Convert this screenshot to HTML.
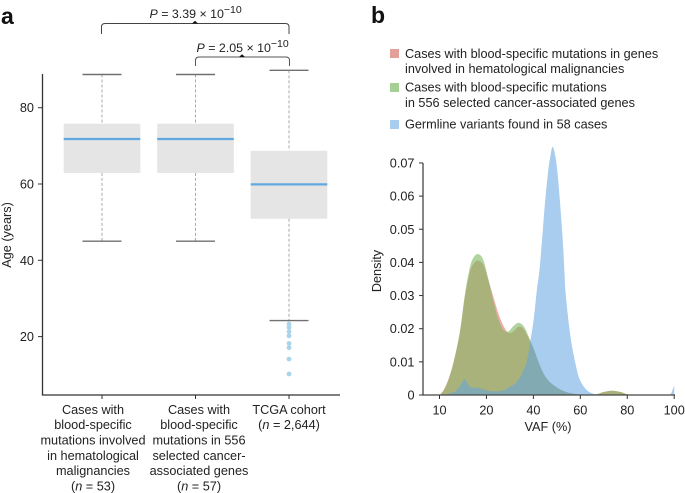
<!DOCTYPE html>
<html>
<head>
<meta charset="utf-8">
<style>
html,body{margin:0;padding:0;background:#fff;}
#wrap{width:685px;height:493px;position:relative;overflow:hidden;}
svg{display:block;font-family:"Liberation Sans",Arial,sans-serif;fill:#222;filter:blur(0.3px);}
text{font-size:12.7px;}
</style>
</head>
<body>
<div id="wrap">
<svg id="fig" width="685" height="493" viewBox="0 0 685 493">
  <text x="1" y="24" style="font-size:23px;font-weight:bold;fill:#111">a</text>
  <text x="371" y="23" style="font-size:23px;font-weight:bold;fill:#111">b</text>

  <g fill="none" stroke="#444" stroke-width="1">
    <path d="M101.5 34V27Q101.5 23.5 105 23.5H285.5Q289 23.5 289 27V34"/>
  </g>
  <path d="M192 23.5L195 20.8L198 23.5Z" fill="#111"/>
  <g fill="none" stroke="#555" stroke-width="1">
    <path d="M195.5 66V60.5Q195.5 57 199 57H286Q289.5 57 289.5 60.5V66"/>
  </g>
  <path d="M239 57L242 54.3L245 57Z" fill="#111"/>
  <text x="149.5" y="18" style="font-size:12.4px"><tspan font-style="italic">P</tspan> = 3.39 × 10<tspan dy="-5" style="font-size:10.5px">−10</tspan></text>
  <text x="196.5" y="52" style="font-size:12.4px"><tspan font-style="italic">P</tspan> = 2.05 × 10<tspan dy="-5" style="font-size:10.5px">−10</tspan></text>

  <g id="boxplot"></g>

  <g text-anchor="middle">
    <g>
      <text x="93" y="414">Cases with</text>
      <text x="93" y="429">blood-specific</text>
      <text x="93" y="444.5">mutations involved</text>
      <text x="93" y="460">in hematological</text>
      <text x="93" y="475">malignancies</text>
      <text x="93" y="490.5">(<tspan font-style="italic">n</tspan> = 53)</text>
    </g>
    <g>
      <text x="199" y="414">Cases with</text>
      <text x="199" y="429">blood-specific</text>
      <text x="199" y="444.5">mutations in 556</text>
      <text x="199" y="460">selected cancer-</text>
      <text x="199" y="475">associated genes</text>
      <text x="199" y="490.5">(<tspan font-style="italic">n</tspan> = 57)</text>
    </g>
    <g>
      <text x="289" y="414">TCGA cohort</text>
      <text x="289" y="429">(<tspan font-style="italic">n</tspan> = 2,644)</text>
    </g>
  </g>
  <text transform="translate(11,235) rotate(-90)" text-anchor="middle">Age (years)</text>

  <g>
    <rect x="390" y="49" width="9" height="9" fill="#e3a09a"/>
    <text x="405" y="58">Cases with blood-specific mutations in genes</text>
    <text x="405" y="73">involved in hematological malignancies</text>
    <rect x="390" y="83" width="9" height="9" fill="#a6cf95"/>
    <text x="405" y="91.5">Cases with blood-specific mutations</text>
    <text x="405" y="107">in 556 selected cancer-associated genes</text>
    <rect x="390" y="120" width="9" height="9" fill="#a8cdee"/>
    <text x="405" y="128.5">Germline variants found in 58 cases</text>
  </g>

  <g id="density"></g>
  <text transform="translate(381,271) rotate(-90)" text-anchor="middle">Density</text>
  <text x="548" y="431" text-anchor="middle">VAF (%)</text>
</svg>
</div>
<script>
// Panel a data
var boxCategories = ['hematological', 'cancer-associated', 'tcga'];
var boxQ1 = [62.9, 62.9, 50.9];
var boxMedian = [71.8, 71.8, 59.9];
var boxQ3 = [75.8, 75.8, 68.7];
var whiskerLow = [45, 45, 24.2];
var whiskerHigh = [88.7, 88.7, 89.8];
var tcgaOutliers = [23.3, 22.4, 21.3, 20.2, 18.2, 17.1, 14.1, 10.2];
var ageTicks = [20, 40, 60, 80];

// Panel b data
var densityTicks = [0, 0.01, 0.02, 0.03, 0.04, 0.05, 0.06, 0.07];
var densityTickLabels = ['0', '0.01', '0.02', '0.03', '0.04', '0.05', '0.06', '0.07'];
var vafTicks = [0, 20, 40, 60, 80, 100];
var vafTickLabels = ['10', '20', '40', '60', '80', '100'];

var redVaf = [0.2, 2.3, 4.5, 6.6, 8.8, 10.9, 13, 14.7, 16.6, 18.7, 20.9, 23, 25.1, 27.3, 29.4, 31.5, 33.7, 35.8, 37.9, 40.1, 42.2, 44.3, 46.5, 48.6, 50.6, 53.6, 57.9, 62.2, 66.4, 69.9, 73.6, 77.2, 80.1, 85.6, 100];
var redDensity = [0, 0.0022, 0.0062, 0.0118, 0.0194, 0.03, 0.0372, 0.0398, 0.0405, 0.0392, 0.0345, 0.0295, 0.0246, 0.0208, 0.0187, 0.0192, 0.0206, 0.02, 0.0172, 0.0138, 0.0098, 0.0064, 0.0042, 0.0029, 0.002, 0.001, 0.0003, 0, 0.0001, 0.0009, 0.0013, 0.0009, 0.0002, 0, 0];

var greenVaf = [0.2, 2.3, 4.5, 6.6, 8.8, 10.9, 13, 14.7, 16.6, 18.7, 20.9, 23, 25.1, 27.3, 29.4, 31.5, 33.7, 35.8, 37.9, 40.1, 42.2, 44.3, 46.5, 48.6, 50.6, 53.6, 57.9, 62.2, 66.4, 69.9, 73.6, 77.2, 80.1, 85.6, 100];
var greenDensity = [0, 0.002, 0.006, 0.0115, 0.0196, 0.0307, 0.0387, 0.0417, 0.0425, 0.0407, 0.0347, 0.0282, 0.0228, 0.0196, 0.0192, 0.0208, 0.0218, 0.0208, 0.0178, 0.0141, 0.01, 0.0066, 0.0043, 0.003, 0.002, 0.001, 0.0003, 0, 0.0001, 0.0009, 0.0013, 0.0009, 0.0002, 0, 0];

var blueVaf = [3.2, 4.5, 6.6, 7.9, 9.4, 10.6, 11.8, 13, 16.5, 19.4, 22.9, 26.7, 30.1, 32.3, 34.4, 35.7, 37.3, 39, 40.1, 41.5, 42.6, 43.7, 44.8, 46.2, 47.2, 48.2, 49.4, 50.3, 51.5, 52.5, 53.2, 53.6, 55.8, 57.9, 59.3, 61.5, 64.3, 68.7, 98.1, 100];
var blueDensity = [0, 0.0006, 0.001, 0.002, 0.0035, 0.0048, 0.0037, 0.0024, 0.0022, 0.0015, 0.0011, 0.0013, 0.0025, 0.0035, 0.0055, 0.0074, 0.0105, 0.0175, 0.0226, 0.0317, 0.0377, 0.0468, 0.0568, 0.0669, 0.0719, 0.0749, 0.0719, 0.0669, 0.0568, 0.0468, 0.0377, 0.0317, 0.0176, 0.0096, 0.0055, 0.0025, 0.0007, 0.0001, 0, 0.0028];

var NS = 'http://www.w3.org/2000/svg';
function make(parent, tag, attrs, txt) {
  var el = document.createElementNS(NS, tag);
  for (var k in attrs) { el.setAttribute(k, attrs[k]); }
  if (txt !== undefined) { el.textContent = txt; }
  parent.appendChild(el);
  return el;
}

// Panel a axis functions
function xBox(i) { return 102 + i * 93.5; }
function yAge(v) { return 184 - (v - 60) * 3.815; }
var BOX_HALF = 38.3, CAP_HALF = 19.5;

var gBox = document.getElementById('boxplot');
var el;
boxCategories.forEach(function (cat, i) {
  var cx = xBox(i);

  el = make(gBox, 'line', {x1: cx, x2: cx, y1: yAge(whiskerHigh[i]), y2: yAge(boxQ3[i]), stroke: '#aaa', 'stroke-width': 1, 'stroke-dasharray': '3 2'});
  
  

  el = make(gBox, 'line', {x1: cx, x2: cx, y1: yAge(boxQ1[i]), y2: yAge(whiskerLow[i]), stroke: '#aaa', 'stroke-width': 1, 'stroke-dasharray': '3 2'});
  
  

  el = make(gBox, 'line', {x1: cx - CAP_HALF, x2: cx + CAP_HALF, y1: yAge(whiskerHigh[i]), y2: yAge(whiskerHigh[i]), stroke: '#707070', 'stroke-width': 1.4});
  
  

  el = make(gBox, 'line', {x1: cx - CAP_HALF, x2: cx + CAP_HALF, y1: yAge(whiskerLow[i]), y2: yAge(whiskerLow[i]), stroke: '#707070', 'stroke-width': 1.4});
  
  

  el = make(gBox, 'rect', {x: cx - BOX_HALF, width: BOX_HALF * 2, y: yAge(boxQ3[i]), height: yAge(boxQ1[i]) - yAge(boxQ3[i]), fill: '#e5e5e5'});
  
  

  el = make(gBox, 'line', {x1: cx - BOX_HALF, x2: cx + BOX_HALF, y1: yAge(boxMedian[i]), y2: yAge(boxMedian[i]), stroke: '#62a8de', 'stroke-width': 2.2});
  
  

  el = make(gBox, 'line', {x1: cx, x2: cx, y1: 395, y2: 399, stroke: '#333', 'stroke-width': 1});
  
  
});

tcgaOutliers.forEach(function (v) {
  var dot = make(gBox, 'circle', {cx: xBox(2), cy: yAge(v), r: 2.4, fill: '#a8d5ea'});
  
  
});

el = make(gBox, 'path', {d: 'M42.5 74V395H340', fill: 'none', stroke: '#333', 'stroke-width': 1.3});



ageTicks.forEach(function (t) {
  var tick = make(gBox, 'line', {x1: 38, x2: 42.5, y1: yAge(t), y2: yAge(t), stroke: '#333', 'stroke-width': 1});
  
  
  var lab = make(gBox, 'text', {x: 34, y: yAge(t) + 4.5, 'text-anchor': 'end'}, String(t));
  
  
});

// Panel b axis functions
function xVaf(v) { return 439.5 + v * 2.347; }
function yDen(d) { return 395 - d * 3315; }

var gDen = document.getElementById('density');
function areaPath(xs, ys) {
  var px = xs.map(xVaf);
  var py = ys.map(yDen);
  var base = yDen(0);
  var n = px.length;
  var d = 'M' + px[0].toFixed(2) + ' ' + base + 'L' + px[0].toFixed(2) + ' ' + py[0].toFixed(2);
  for (var i = 0; i < n - 1; i++) {
    var p0 = Math.max(i - 1, 0), p3 = Math.min(i + 2, n - 1);
    var h = px[i + 1] - px[i];
    var m1 = (py[i + 1] - py[p0]) / (px[i + 1] - px[p0]);
    var m2 = (py[p3] - py[i]) / (px[p3] - px[i]);
    var c1y = Math.min(py[i] + m1 * h / 3, base);
    var c2y = Math.min(py[i + 1] - m2 * h / 3, base);
    d += 'C' + (px[i] + h / 3).toFixed(2) + ' ' + c1y.toFixed(2) + ' ' + (px[i + 1] - h / 3).toFixed(2) + ' ' + c2y.toFixed(2) + ' ' + px[i + 1].toFixed(2) + ' ' + py[i + 1].toFixed(2);
  }
  return d + 'L' + px[n - 1].toFixed(2) + ' ' + base + 'Z';
}

el = make(gDen, 'path', {d: areaPath(redVaf, redDensity), fill: '#dc6a5c', 'fill-opacity': 0.55});



el = make(gDen, 'path', {d: areaPath(greenVaf, greenDensity), fill: '#7db55e', 'fill-opacity': 0.6});



el = make(gDen, 'path', {d: areaPath(blueVaf, blueDensity), fill: '#61a4e0', 'fill-opacity': 0.55});



el = make(gDen, 'path', {d: 'M423 163V395H675', fill: 'none', stroke: '#444', 'stroke-width': 1.3});



densityTicks.forEach(function (t, i) {
  var tick = make(gDen, 'line', {x1: 419, x2: 423, y1: yDen(t), y2: yDen(t), stroke: '#333', 'stroke-width': 1});
  
  
  var lab = make(gDen, 'text', {x: 414.5, y: yDen(t) + 4.5, 'text-anchor': 'end'}, densityTickLabels[i]);
  
  
});

vafTicks.forEach(function (t, i) {
  var tick = make(gDen, 'line', {x1: xVaf(t), x2: xVaf(t), y1: 395, y2: 399, stroke: '#333', 'stroke-width': 1});
  
  
  var lab = make(gDen, 'text', {x: xVaf(t), y: 414.5, 'text-anchor': 'middle'}, vafTickLabels[i]);
  
  
});
</script>
</body>
</html>
